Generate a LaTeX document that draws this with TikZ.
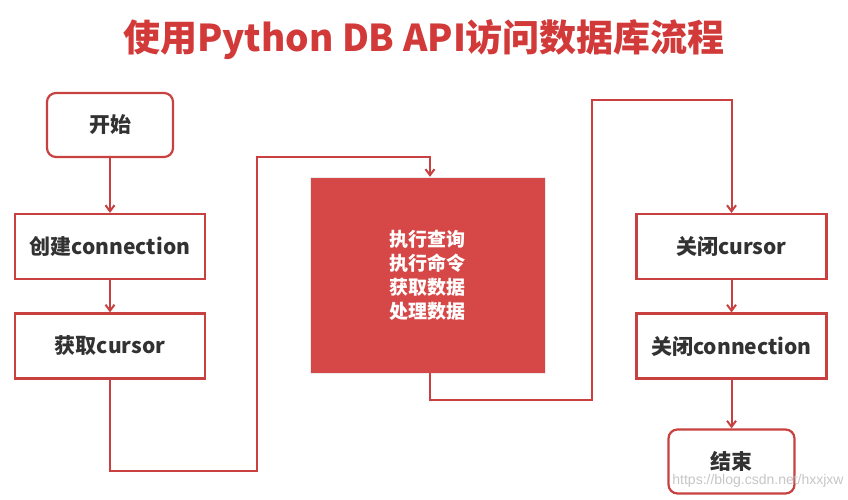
\documentclass[tikz,border=0pt]{standalone}
\usepackage{fontspec}
\setmainfont{Noto Sans CJK SC}
\newfontfamily\cjk{Noto Sans CJK SC}
\usetikzlibrary{arrows.meta}
\definecolor{lred}{RGB}{200,64,64}
\definecolor{bred}{RGB}{214,72,72}
\definecolor{tred}{RGB}{210,58,58}
\definecolor{txt}{RGB}{50,50,50}
\begin{document}
\begin{tikzpicture}[x=1pt,y=-1pt,
  box/.style={draw=lred,line width=2.2pt,fill=white,minimum width=190pt,minimum height=65pt,font=\cjk\bfseries\fontsize{21}{24}\selectfont,text=txt},
  term/.style={box,rounded corners=9pt,minimum width=126pt,minimum height=64pt},
  conn/.style={draw=lred,line width=2pt,-{Straight Barb[length=6pt,width=9pt]}}]
\useasboundingbox (0,0) rectangle (848,499);
\node[font=\cjk\bfseries\fontsize{37}{42}\selectfont,text=tred] (title) at (424,40) {使用Python DB API访问数据库流程};
\node[term] (start) at (110,125) {开始};
\node[box] (conn1) at (110,246.5) {创建connection};
\node[box] (cur1) at (110,346) {获取cursor};
\node[draw=white!85!gray,fill=bred,minimum width=235pt,minimum height=196pt,align=left,text=white,font=\cjk\bfseries\fontsize{19}{24}\selectfont] (work) at (427.5,275) {执行查询\\执行命令\\获取数据\\处理数据};
\node[box] (cur2) at (731.5,246.5) {关闭cursor};
\node[box] (conn2) at (731.5,346) {关闭connection};
\node[term] (end) at (731.5,461.5) {结束};
\coordinate (a1) at (110,471); \coordinate (a2) at (257,471);
\coordinate (a3) at (257,157); \coordinate (a4) at (430,157);
\coordinate (b1) at (430,400); \coordinate (b2) at (592,400);
\coordinate (b3) at (592,100); \coordinate (b4) at (731.5,100);
\draw[conn] (start) -- (conn1);
\draw[conn] (conn1) -- (cur1);
\draw[conn] (cur1.south) -- (a1) -- (a2) -- (a3) -- (a4) -- (a4 |- work.north);
\draw[conn] (b1 |- work.south) -- (b1) -- (b2) -- (b3) -- (b4) -- (cur2.north);
\draw[conn] (cur2) -- (conn2);
\draw[conn] (conn2) -- (end);
\node[text=gray!45,font=\fontspec{Liberation Sans}\fontsize{14}{16}\selectfont] (wm) at (758,481) {https://blog.csdn.net/hxxjxw};
\end{tikzpicture}
\end{document}
